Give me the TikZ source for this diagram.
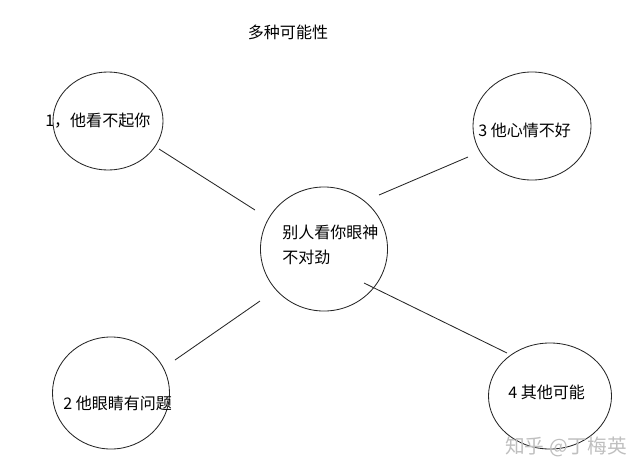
\documentclass[tikz,border=0pt]{standalone}
\usepackage{fontspec}
\newfontfamily\cjk{Noto Sans CJK SC}
\usepackage{tikz}
\usetikzlibrary{
    calc,
    shapes.geometric
}

\begin{document}
\begin{tikzpicture}[x=0.025cm, y=-0.025cm,
    bubble/.style={draw=black!85, line width=0.6pt, ellipse, inner sep=0pt},
    txt/.style={font=\cjk\fontsize{11.4}{17.8}\selectfont, anchor=west, inner sep=0pt},
    link/.style={draw=black!85, line width=0.6pt}]

\useasboundingbox (0,0) rectangle (643,475);

% Title
\node[txt, anchor=center] (title) at (288,32) {多种可能性};

% Circles
\node[bubble, minimum width=2.75cm, minimum height=2.45cm] (c1) at (108,121) {};
\node[bubble, minimum width=3.175cm, minimum height=3.1cm] (mid) at (324,249) {};
\node[bubble, minimum width=2.95cm, minimum height=2.7cm] (c3) at (532,126) {};
\node[bubble, minimum width=2.925cm, minimum height=2.8cm] (c2) at (111,393) {};
\node[bubble, minimum width=3.075cm, minimum height=2.65cm] (c4) at (550,396) {};

% Labels
\node[txt] (t1) at (45,121) {1，他看不起你};
\node[txt, align=left] (tmid) at (282,245) {别人看你眼神\\不对劲};
\node[txt] (t3) at (478,130) {3 他心情不好};
\node[txt] (t2) at (63,403) {2 他眼睛有问题};
\node[txt] (t4) at (508,392) {4 其他可能};

% Links
\draw[link] ($(c1.center)+(51,28)$) -- ($(mid.center)+(-69,-39)$);
\draw[link] ($(mid.center)+(55,-54)$) -- ($(c3.center)+(-64,31)$);
\draw[link] ($(c2.center)+(64,-33)$) -- ($(mid.center)+(-64,52)$);
\draw[link] ($(mid.center)+(40,34)$) -- ($(c4.center)+(-43,-43)$);

% Watermark
\node[txt, font=\cjk\fontsize{14}{16}\selectfont, text=black!25] (mark) at (505,447) {知乎 @丁梅英};

\end{tikzpicture}
\end{document}
